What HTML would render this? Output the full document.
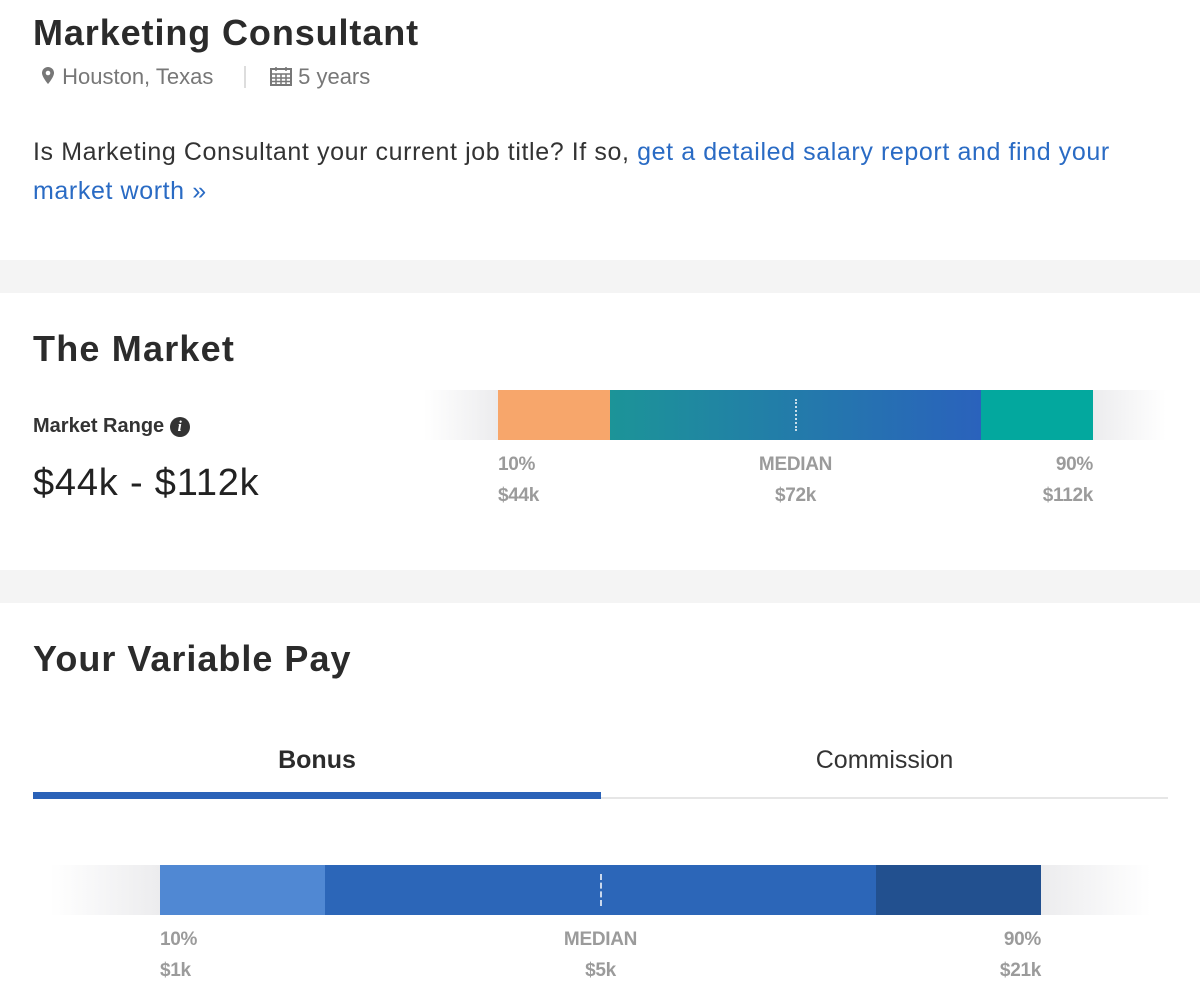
<!DOCTYPE html>
<html><head><meta charset="utf-8"><style>
body{margin:0;width:1200px;height:994px;background:#fff;font-family:"Liberation Sans",sans-serif;color:#2b2b2b;position:relative;overflow:hidden}
.a{position:absolute;white-space:nowrap}
.band{position:absolute;left:0;width:1200px;height:33px;background:#f4f4f4}
.lbl{position:absolute;font-size:19px;font-weight:bold;color:#9b9b9b;letter-spacing:-0.3px}
</style></head><body>
<div class="a" style="left:33px;top:12px;font-size:36px;font-weight:bold;color:#2b2b2b;letter-spacing:0.9px">Marketing Consultant</div>
<div class="a" style="left:40px;top:64px;font-size:22px;color:#777">
<svg width="16" height="20" viewBox="0 0 14 20" style="vertical-align:-2px"><path d="M7 1a6 6 0 0 0-6 6c0 4 6 11 6 11s6-7 6-11a6 6 0 0 0-6-6z" fill="#777"/><circle cx="7" cy="7" r="2.3" fill="#fff"/></svg>
Houston, Texas</div>
<div class="a" style="left:244px;top:66px;width:2px;height:22px;background:#ddd"></div>
<div class="a" style="left:270px;top:64px;font-size:22px;color:#777">
<svg width="22" height="20" viewBox="0 0 22 20" style="vertical-align:-2px"><rect x="1" y="3" width="20" height="16" fill="none" stroke="#777" stroke-width="2"/><path d="M1 8h20M6 1v4M16 1v4M1 12h20M1 15.5h20M6 8v11M11 8v11M16 8v11" stroke="#777" stroke-width="1.5"/></svg> 5 years</div>
<div class="a" style="left:33px;top:133px;font-size:25px;line-height:39px;color:#333;white-space:normal;width:1100px;letter-spacing:0.6px">Is Marketing Consultant your current job title? If so, <span style="color:#2a6bc4">get a detailed salary report and find your market worth »</span></div>
<div class="band" style="top:260px"></div>
<div class="a" style="left:33px;top:328px;font-size:36px;font-weight:bold;letter-spacing:1.2px">The Market</div>
<div class="a" style="left:33px;top:415px;font-size:20px;font-weight:bold;color:#333">Market Range <span style="display:inline-block;width:20px;height:20px;border-radius:50%;background:#333;color:#fff;font-size:15px;text-align:center;line-height:20px;font-style:italic;font-family:'Liberation Serif',serif;vertical-align:1px">i</span></div>
<div class="a" style="left:33px;top:462px;font-size:38px;color:#222;letter-spacing:0.8px">$44k - $112k</div>
<div class="band" style="top:570px"></div>
<div class="a" style="left:33px;top:638px;font-size:36px;font-weight:bold;letter-spacing:1px">Your Variable Pay</div>
<div class="a" style="left:33px;width:568px;top:746px;text-align:center;font-size:25px;font-weight:bold;color:#2b2b2b">Bonus</div>
<div class="a" style="left:601px;width:567px;top:746px;text-align:center;font-size:25px;color:#333">Commission</div>
<div class="a" style="left:33px;top:797px;width:1135px;height:2px;background:#e6e6e6"></div>
<div class="a" style="left:33px;top:792px;width:568px;height:7px;background:#2a62b8"></div>
<div id="charts"></div>
<script>
const marketPercentiles=[10,25,50,75,90];
const marketValues=[44,57,72,99,112];
const marketTickLabels=['10%','MEDIAN','90%'];
const marketTickValues=['$44k','$72k','$112k'];
const bonusPercentiles=[10,25,50,75,90];
const bonusValues=[1,2,5,12,21];
const bonusTickLabels=['10%','MEDIAN','90%'];
const bonusTickValues=['$1k','$5k','$21k'];

function makeChart(name,pct,tl,tv,x0,x1,y,fadeL,fadeR,fills,dash){
  const root=document.getElementById('charts');
  const sc=p=>x0+(p-pct[0])/(pct[pct.length-1]-pct[0])*(x1-x0);
  const f=document.createElement('div');
  
  
  f.style.cssText=`position:absolute;left:${x0-fadeL}px;top:${y}px;width:${x1-x0+fadeL+fadeR}px;height:50px;background:linear-gradient(90deg,#fff 0,#ececee ${fadeL}px,#ececee calc(100% - ${fadeR}px),#fff 100%)`;
  root.appendChild(f);
  const segs=[[0,1],[1,3],[3,4]];
  segs.forEach((s,i)=>{
    const d=document.createElement('div');
    
    
    const l=sc(pct[s[0]]),r=sc(pct[s[1]]);
    d.style.cssText=`position:absolute;left:${l}px;top:${y}px;width:${r-l}px;height:50px;background:${fills[i]}`;
    root.appendChild(d);
  });
  const m=document.createElement('div');
  
  
  m.style.cssText=`position:absolute;left:${sc(pct[2])-1}px;top:${y+9}px;height:32px;border-left:2px ${dash} rgba(255,255,255,0.75)`;
  root.appendChild(m);
  const idx=[0,2,4];
  idx.forEach((k,i)=>{
    const px=sc(pct[k]);
    const al=i===0?'left':i===1?'center':'right';
    const left=i===0?px:i===1?px-100:px-200;
    const a=document.createElement('div');
    
    
    a.className='lbl';a.textContent=tl[i];
    a.style.cssText+=`left:${left}px;width:200px;text-align:${al};top:${y+64}px`;
    root.appendChild(a);
    const b=document.createElement('div');
    
    
    b.className='lbl';b.textContent=tv[i];
    b.style.cssText+=`left:${left}px;width:200px;text-align:${al};top:${y+95}px`;
    root.appendChild(b);
  });
}
makeChart('market-bar',marketPercentiles,marketTickLabels,marketTickValues,498,1093,390,74,73,
  ['#f7a66b','linear-gradient(90deg,#1c9498,#2a62bc)','#03a89e'],'dotted');
makeChart('bonus-bar',bonusPercentiles,bonusTickLabels,bonusTickValues,160,1041,865,110,110,
  ['#5088d3','#2c66b8','#22508f'],'dashed');
</script>
</body></html>
